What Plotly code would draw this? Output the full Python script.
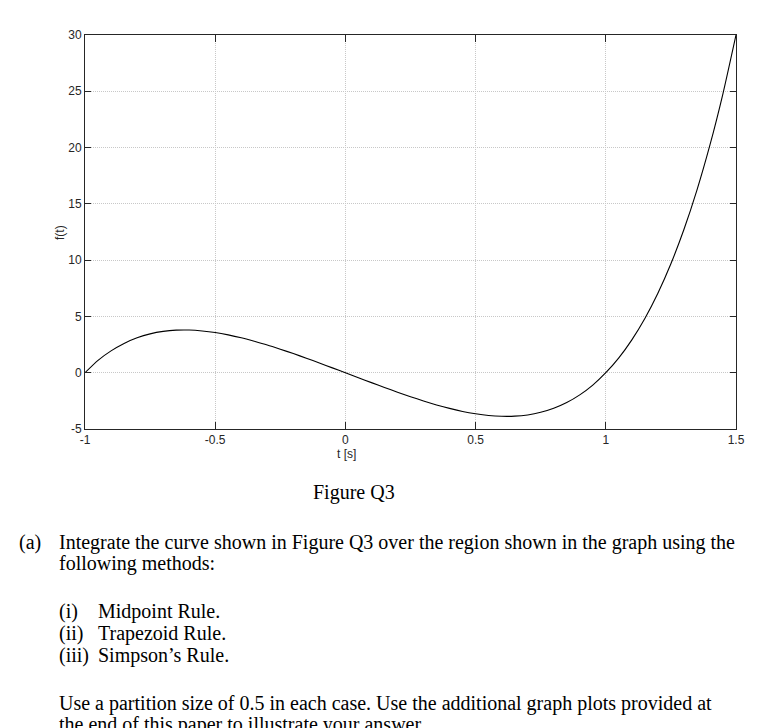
import plotly.graph_objects as go

# ---- data ----
t_values = [-1.0, -0.95, -0.9, -0.85, -0.8, -0.75, -0.7, -0.65, -0.6, -0.55,
            -0.5, -0.45, -0.4, -0.35, -0.3, -0.25, -0.2, -0.15, -0.1, -0.05,
            0.0, 0.05, 0.1, 0.15, 0.2, 0.25, 0.3, 0.35, 0.4, 0.45,
            0.5, 0.55, 0.6, 0.65, 0.7, 0.75, 0.8, 0.85, 0.9, 0.95,
            1.0, 1.05, 1.1, 1.15, 1.2, 1.25, 1.3, 1.35, 1.4, 1.45, 1.5]
f_values = [0.00, 1.10, 1.94, 2.60, 3.10, 3.45, 3.67, 3.78, 3.79, 3.71,
            3.57, 3.36, 3.10, 2.79, 2.46, 2.09, 1.70, 1.29, 0.87, 0.43,
            0.00, -0.44, -0.88, -1.31, -1.73, -2.13, -2.51, -2.86, -3.17, -3.44,
            -3.65, -3.80, -3.87, -3.86, -3.75, -3.52, -3.16, -2.65, -1.97, -1.10,
            0.00, 1.32, 2.92, 4.82, 7.06, 9.68, 12.72, 16.22, 20.23, 24.80, 30.00]

x_ticks = [-1, -0.5, 0, 0.5, 1, 1.5]
x_tick_labels = ["-1", "-0.5", "0", "0.5", "1", "1.5"]
y_ticks = [-5, 0, 5, 10, 15, 20, 25, 30]
y_tick_labels = ["-5", "0", "5", "10", "15", "20", "25", "30"]

x_label = "t [s]"
y_label = "f(t)"
caption = "Figure Q3"
question_lines = [
    "Integrate the curve shown in Figure Q3 over the region shown in the graph using the",
    "following methods:",
]
item_labels = ["(i)", "(ii)", "(iii)"]
item_texts = ["Midpoint Rule.", "Trapezoid Rule.", "Simpson\u2019s Rule."]
note_lines = [
    "Use a partition size of 0.5 in each case. Use the additional graph plots provided at",
    "the end of this paper to illustrate your answer.",
]

# ---- layout geometry (pixels) ----
W, H = 782, 728
L, R, T, B = 85, 736, 35, 429


def px(x):
    return (x - L) / (R - L)


def py(y):
    return (B - y) / (B - T)


AX = "#262626"
SANS = "Liberation Sans, Arial, Helvetica, sans-serif"
SERIF = "Liberation Serif, Times New Roman, serif"
FS = 20

fig = go.Figure()
fig.add_trace(go.Scatter(x=t_values, y=f_values, mode="lines",
                         line=dict(color="black", width=1.1, shape="spline", smoothing=0.6),
                         showlegend=False, hoverinfo="skip"))

axis_common = dict(showline=True, linecolor=AX, linewidth=1, mirror="ticks",
                   ticks="inside", tickcolor=AX, tickwidth=1,
                   showgrid=True, gridcolor="#c8c8c8", gridwidth=1, griddash="1px,1px",
                   zeroline=False, tickfont=dict(family=SANS, size=12, color=AX))

fig.update_layout(
    width=W, height=H,
    margin=dict(l=L, r=W - R, t=T, b=H - B, pad=0),
    paper_bgcolor="white", plot_bgcolor="white",
    xaxis=dict(range=[-1, 1.5], tickvals=x_ticks, ticktext=x_tick_labels, ticklen=7, **axis_common),
    yaxis=dict(range=[-5, 30], tickvals=y_ticks, ticktext=y_tick_labels, ticklen=6, **axis_common),
)

ann = []
ann.append(dict(text=x_label, x=px(346), y=py(454), font=dict(family=SANS, size=12, color=AX),
                xanchor="center", yanchor="middle"))
ann.append(dict(text=y_label, x=px(60), y=py(233), textangle=-90,
                font=dict(family=SANS, size=12, color=AX), xanchor="center", yanchor="middle"))
ann.append(dict(text=caption, x=px(354), y=py(492), font=dict(family=SERIF, size=FS, color="black"),
                xanchor="center", yanchor="middle"))
ann.append(dict(text="(a)", x=px(17), y=py(542), font=dict(family=SERIF, size=FS, color="black"),
                xanchor="left", yanchor="middle"))
for i, line in enumerate(question_lines):
    ann.append(dict(text=line, x=px(57), y=py(542 + 21.5 * i), font=dict(family=SERIF, size=FS, color="black"),
                    xanchor="left", yanchor="middle"))
for i, (lab, txt) in enumerate(zip(item_labels, item_texts)):
    yy = py(611 + 22 * i)
    ann.append(dict(text=lab, x=px(57), y=yy, font=dict(family=SERIF, size=FS, color="black"),
                    xanchor="left", yanchor="middle"))
    ann.append(dict(text=txt, x=px(96), y=yy, font=dict(family=SERIF, size=FS, color="black"),
                    xanchor="left", yanchor="middle"))
for i, line in enumerate(note_lines):
    ann.append(dict(text=line, x=px(57), y=py(703 + 21.5 * i), font=dict(family=SERIF, size=FS, color="black"),
                    xanchor="left", yanchor="middle"))

for a in ann:
    a.update(xref="paper", yref="paper", showarrow=False)
fig.update_layout(annotations=ann)

fig.write_html("out.html", config={"displayModeBar": False},
               post_script="document.body.style.margin='0';")
